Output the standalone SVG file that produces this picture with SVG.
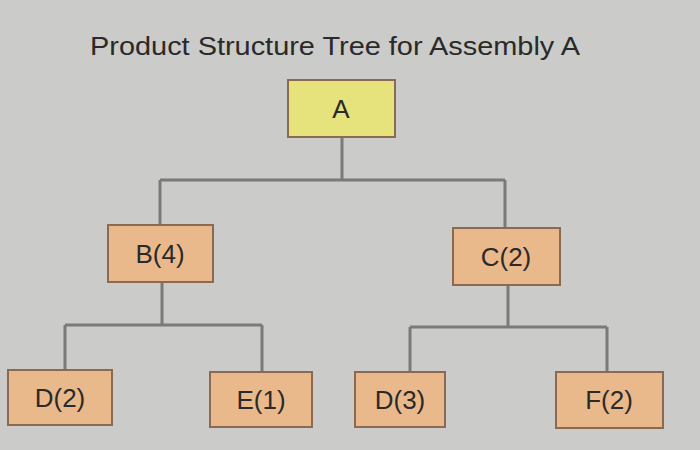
<svg xmlns="http://www.w3.org/2000/svg" width="700" height="450" viewBox="0 0 700 450">
<style>
.n{stroke:#8a6a50;stroke-width:2}
.y{fill:#e6e37c}
.o{fill:#e9b98c}
.t{font-family:"Liberation Sans",Arial,sans-serif;font-size:26px;fill:#2a2a2a;text-anchor:middle}
.c{fill:none;stroke:#7a7a7a;stroke-width:3}
</style>
<rect width="700" height="450" fill="#cbcbc9"/>
<text x="335" y="55" class="t" style="font-size:25px" textLength="490" lengthAdjust="spacingAndGlyphs">Product Structure Tree for Assembly A</text>
<g id="connectors">
<path class="c" d="M342 137V180M160 180H505M160 180V225M505 180V228"/>
<path class="c" d="M162 282V325M65 325H262M65 325V370M262 325V372"/>
<path class="c" d="M508 285V327M410 327H607M410 327V372M607 327V372"/>
</g>
<g id="A"><rect class="n y" x="288" y="80" width="107" height="57"/><text class="t" x="341" y="118">A</text></g>
<g id="B"><rect class="n o" x="108" y="225" width="105" height="57"/><text class="t" x="160" y="263">B(4)</text></g>
<g id="C"><rect class="n o" x="453" y="228" width="107" height="57"/><text class="t" x="506" y="266">C(2)</text></g>
<g id="D2"><rect class="n o" x="8" y="370" width="104" height="55"/><text class="t" x="60" y="407">D(2)</text></g>
<g id="E1"><rect class="n o" x="210" y="372" width="102" height="55"/><text class="t" x="261" y="409">E(1)</text></g>
<g id="D3"><rect class="n o" x="355" y="372" width="90" height="55"/><text class="t" x="400" y="409">D(3)</text></g>
<g id="F2"><rect class="n o" x="556" y="372" width="107" height="56"/><text class="t" x="609" y="409">F(2)</text></g>
</svg>
